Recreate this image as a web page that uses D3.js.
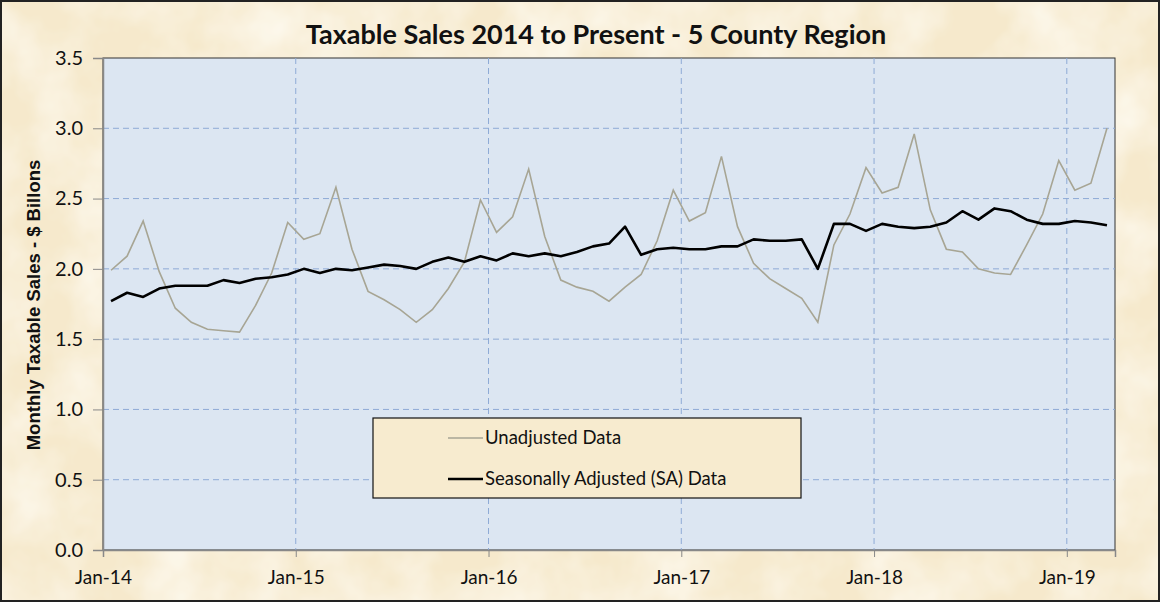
<!DOCTYPE html>
<html>
<head>
<meta charset="utf-8">
<script src="https://cdn.jsdelivr.net/npm/d3@7"></script>
<style>
  body { margin: 0; background: #fff; }
  svg { display: block; }
  text { font-family: Lato, "Open Sans", sans-serif; fill: #111; }
</style>
</head>
<body>
<div id="chart"></div>
<script>
// monthly values, Jan-14 .. Mar-19 ($ billions)
const unadjusted = [
  1.99, 2.09, 2.34, 1.98, 1.72, 1.62, 1.57, 1.56, 1.55, 1.74, 1.97, 2.33,
  2.21, 2.25, 2.58, 2.14, 1.84, 1.78, 1.71, 1.62, 1.71, 1.86, 2.05, 2.49,
  2.26, 2.37, 2.71, 2.23, 1.92, 1.87, 1.84, 1.77, 1.87, 1.96, 2.20, 2.56,
  2.34, 2.40, 2.80, 2.30, 2.04, 1.93, 1.86, 1.79, 1.62, 2.17, 2.39, 2.72,
  2.54, 2.58, 2.96, 2.42, 2.14, 2.12, 2.00, 1.97, 1.96, 2.17, 2.39, 2.77,
  2.56, 2.61, 3.00
];
const seasonallyAdjusted = [
  1.77, 1.83, 1.80, 1.86, 1.88, 1.88, 1.88, 1.92, 1.90, 1.93, 1.94, 1.96,
  2.00, 1.97, 2.00, 1.99, 2.01, 2.03, 2.02, 2.00, 2.05, 2.08, 2.05, 2.09,
  2.06, 2.11, 2.09, 2.11, 2.09, 2.12, 2.16, 2.18, 2.30, 2.10, 2.14, 2.15,
  2.14, 2.14, 2.16, 2.16, 2.21, 2.20, 2.20, 2.21, 2.00, 2.32, 2.32, 2.27,
  2.32, 2.30, 2.29, 2.30, 2.33, 2.41, 2.35, 2.43, 2.41, 2.35, 2.32, 2.32,
  2.34, 2.33, 2.31
];
const yearTicks = ["Jan-14", "Jan-15", "Jan-16", "Jan-17", "Jan-18", "Jan-19"];
const yTicks = [0, 0.5, 1.0, 1.5, 2.0, 2.5, 3.0, 3.5];
const seriesNames = ["Unadjusted Data", "Seasonally Adjusted (SA) Data"];

const W = 1160, H = 602;
let margin = { top: 58, right: 45, bottom: 52, left: 103 },
  width = W - margin.left - margin.right,
  height = H - margin.top - margin.bottom;

let svg = d3.select("#chart").append("svg")
  .attr("width", W)
  .attr("height", H);

// parchment texture
let defs = svg.append("defs");
let f = defs.append("filter").attr("id", "parch")
  .attr("x", 0).attr("y", 0).attr("width", "100%").attr("height", "100%");
f.append("feTurbulence")
  .attr("type", "fractalNoise")
  .attr("baseFrequency", "0.014")
  .attr("numOctaves", 4)
  .attr("seed", 7)
  .attr("result", "noise");
f.append("feColorMatrix")
  .attr("in", "noise")
  .attr("type", "matrix")
  .attr("values", "0 0 0 0 1  0 0 0 0 0.99  0 0 0 0 0.93  0 0 0 -1.2 0.8")
  .attr("result", "tint");
f.append("feComposite").attr("in", "tint").attr("in2", "SourceGraphic").attr("operator", "over");

svg.append("rect")
  .attr("x", 1).attr("y", 1)
  .attr("width", W - 2).attr("height", H - 2)
  .attr("fill", "#f6e9cc")
  .attr("filter", "url(#parch)");
svg.append("rect")
  .attr("x", 1).attr("y", 1)
  .attr("width", W - 2).attr("height", H - 2)
  .attr("fill", "none")
  .attr("stroke", "#222")
  .attr("stroke-width", 2);

let g = svg.append("g")
  .attr("transform", "translate(" + margin.left + "," + margin.top + ")");

// month index scale, point i sits in the middle of its month
let x = d3.scaleLinear().domain([0, unadjusted.length]).range([0, width]);
let y = d3.scaleLinear().domain([0, 3.5]).range([height, 0]);

g.append("rect")
  .attr("width", width).attr("height", height)
  .attr("fill", "#dce6f2")
  .attr("stroke", "#333")
  .attr("stroke-width", 1);

// grid
g.selectAll(".hgrid")
  .data(yTicks.slice(1, -1))
  .enter().append("line")
  .attr("x1", 0).attr("x2", width)
  .attr("y1", d => y(d)).attr("y2", d => y(d))
  .attr("stroke", "#8eaad6")
  .attr("stroke-dasharray", "6,4");

g.selectAll(".vgrid")
  .data(yearTicks.slice(1))
  .enter().append("line")
  .attr("x1", (d, i) => x((i + 1) * 12)).attr("x2", (d, i) => x((i + 1) * 12))
  .attr("y1", 0).attr("y2", height)
  .attr("stroke", "#8eaad6")
  .attr("stroke-dasharray", "6,4");

// axes
let yAxis = d3.axisLeft(y).tickValues(yTicks).tickFormat(d3.format(".1f")).tickSize(10).tickPadding(10);
let xAxis = d3.axisBottom(x).tickValues(yearTicks.map((d, i) => i * 12))
  .tickFormat((d, i) => yearTicks[i]).tickSize(7).tickPadding(8);

let ya = g.append("g").call(yAxis);
let xa = g.append("g").attr("transform", "translate(0," + height + ")").call(xAxis);
[ya, xa].forEach(a => {
  a.select(".domain").attr("stroke", "#888").attr("stroke-width", 1.5);
  a.selectAll(".tick line").attr("stroke", "#888");
  a.selectAll("text").style("font-family", "Lato, sans-serif").attr("fill", "#111");
});
ya.selectAll("text").style("font-size", "20px");
xa.selectAll("text").style("font-size", "19px").attr("dy", "1em");

// lines
let line = d3.line()
  .x((d, i) => x(i + 0.5))
  .y(d => y(d));

g.append("path")
  .datum(unadjusted)
  .attr("fill", "none")
  .attr("stroke", "#a7a594")
  .attr("stroke-width", 1.6)
  .attr("d", line);

g.append("path")
  .datum(seasonallyAdjusted)
  .attr("fill", "none")
  .attr("stroke", "#000")
  .attr("stroke-width", 2.6)
  .attr("stroke-linejoin", "round")
  .attr("d", line);

// title
svg.append("text")
  .text("Taxable Sales 2014 to Present - 5 County Region")
  .attr("x", 596).attr("y", 44)
  .attr("text-anchor", "middle")
  .style("font-size", "27px")
  .style("font-weight", "bold");

svg.append("text")
  .text("Monthly Taxable Sales - $ Billons")
  .attr("transform", "translate(40,305) rotate(-90)")
  .attr("text-anchor", "middle")
  .style("font-family", "'Liberation Sans', Arial, sans-serif")
  .style("font-size", "18.5px")
  .style("font-weight", "bold");

// legend
let legend = svg.append("g").attr("transform", "translate(373,418)");
legend.append("rect")
  .attr("width", 428).attr("height", 80)
  .attr("fill", "#f7ebcf")
  .attr("stroke", "#111")
  .attr("stroke-width", 1.2);

let items = legend.selectAll(".item")
  .data(seriesNames)
  .enter().append("g")
  .attr("transform", (d, i) => "translate(0," + (20 + i * 41) + ")");

items.append("line")
  .attr("x1", 75).attr("x2", 110)
  .attr("stroke", (d, i) => i ? "#000" : "#a7a594")
  .attr("stroke-width", (d, i) => i ? 2.6 : 1.6);

items.append("text")
  .text(d => d)
  .attr("x", 112).attr("dy", "0.35em")
  .style("font-size", "18.5px");
</script>
</body>
</html>
